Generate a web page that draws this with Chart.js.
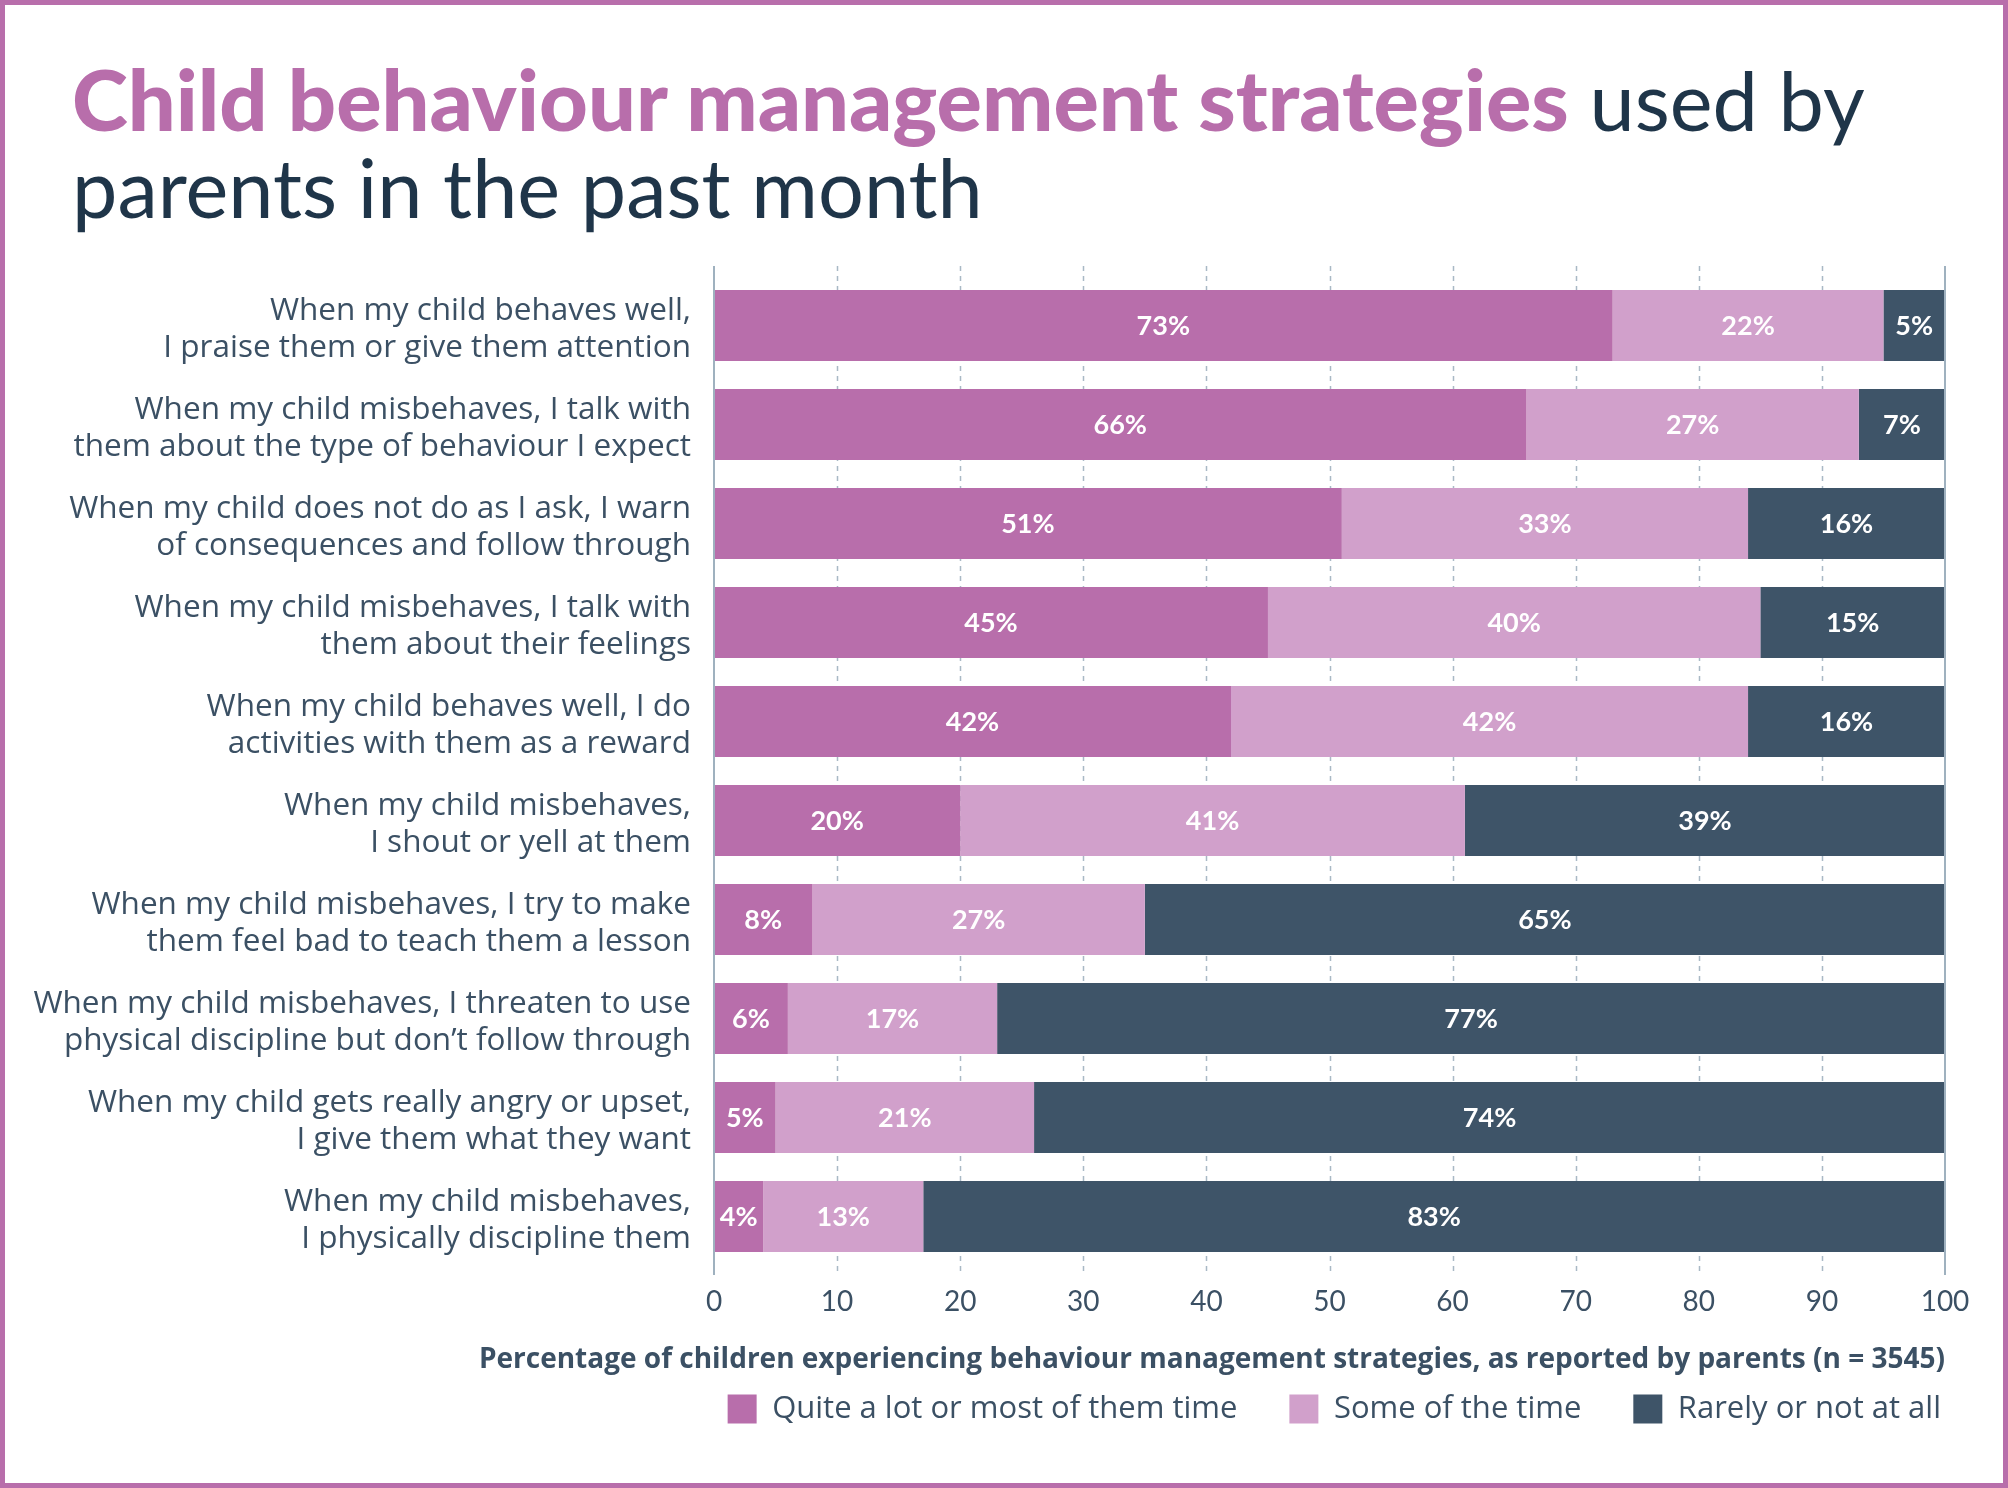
<!DOCTYPE html>
<html>
<head>
<meta charset="utf-8">
<script src="https://cdn.jsdelivr.net/npm/chart.js@4"></script>
<style>
  html, body { margin: 0; padding: 0; background: #ffffff; }
  #wrap { position: relative; width: 2008px; height: 1488px; overflow: hidden; }
  #c { position: absolute; left: 0; top: 0; }
  #frame { position: absolute; left: 0; top: 0; width: 2008px; height: 1488px; box-sizing: border-box;
           border: 5px solid #b86eab; pointer-events: none; }
  #title { position: absolute; left: 72px; top: 55px; font-family: Lato, sans-serif; font-size: 81px;
           line-height: 87px; color: #1f3549; white-space: nowrap; }
  #title b { color: #b86eab; font-weight: 900; font-size: 84.7px; }
</style>
</head>
<body>
<div id="wrap">
  <canvas id="c" width="2008" height="1488"></canvas>
  <div id="title"><b>Child behaviour management strategies</b> used by<br>parents in the past month</div>
  <div id="frame"></div>
</div>
<script>
const categories = [
  ["When my child behaves well,", "I praise them or give them attention"],
  ["When my child misbehaves, I talk with", "them about the type of behaviour I expect"],
  ["When my child does not do as I ask, I warn", "of consequences and follow through"],
  ["When my child misbehaves, I talk with", "them about their feelings"],
  ["When my child behaves well, I do", "activities with them as a reward"],
  ["When my child misbehaves,", "I shout or yell at them"],
  ["When my child misbehaves, I try to make", "them feel bad to teach them a lesson"],
  ["When my child misbehaves, I threaten to use", "physical discipline but don\u2019t follow through"],
  ["When my child gets really angry or upset,", "I give them what they want"],
  ["When my child misbehaves,", "I physically discipline them"]
];
const seriesNames = ["Quite a lot or most of them time", "Some of the time", "Rarely or not at all"];
const quiteALot = [73, 66, 51, 45, 42, 20, 8, 6, 5, 4];
const someOfTime = [22, 27, 33, 40, 42, 41, 27, 17, 21, 13];
const rarely = [5, 7, 16, 15, 16, 39, 65, 77, 74, 83];
const xTicks = [0, 10, 20, 30, 40, 50, 60, 70, 80, 90, 100];
const xAxisTitle = "Percentage of children experiencing behaviour management strategies, as reported by parents (n = 3545)";

const colors = ["#b86eab", "#d1a0cb", "#3e5468"];
const textColor = "#3b5064";
const bodyFont = "'Open Sans', sans-serif";

const gridPlugin = {
  id: "gridPlugin",
  beforeDatasetsDraw(chart) {
    const ctx = chart.ctx, xs = chart.scales.x;
    const top = chart.chartArea.top - 10, bottom = chart.chartArea.bottom + 9;
    ctx.save();
    ctx.strokeStyle = "#a9b9c5";
    ctx.lineWidth = 1.5;
    ctx.setLineDash([5, 5]);
    xTicks.forEach(v => {
      if (v === 0 || v === 100) return;
      const x = Math.round(xs.getPixelForValue(v)) + 0.5;
      ctx.beginPath(); ctx.moveTo(x, top); ctx.lineTo(x, bottom); ctx.stroke();
    });
    ctx.restore();
  },
  afterDatasetsDraw(chart) {
    const ctx = chart.ctx, xs = chart.scales.x;
    const top = chart.chartArea.top - 10, bottom = chart.chartArea.bottom + 9;
    ctx.save();
    ctx.strokeStyle = "#9fb1bf";
    ctx.lineWidth = 2;
    [0, 100].forEach(v => {
      const x = xs.getPixelForValue(v);
      ctx.beginPath(); ctx.moveTo(x, top); ctx.lineTo(x, bottom); ctx.stroke();
    });
    ctx.fillStyle = "#ffffff";
    ctx.font = "bold 27px Lato, sans-serif";
    ctx.textAlign = "center";
    ctx.textBaseline = "middle";
    chart.data.datasets.forEach((ds, i) => {
      const meta = chart.getDatasetMeta(i);
      meta.data.forEach((el, j) => {
        const v = ds.data[j];
        const cx = (el.x + el.base) / 2;
        ctx.fillText(v + "%", cx, el.y + 1);
      });
    });
    ctx.restore();
  },
  afterDraw(chart) {
    const ctx = chart.ctx, xs = chart.scales.x;
    ctx.save();
    ctx.fillStyle = textColor;
    ctx.font = "bold 28px " + bodyFont;
    ctx.textAlign = "right";
    ctx.textBaseline = "middle";
    ctx.fillText(xAxisTitle, xs.right, chart.chartArea.bottom + 94);
    ctx.restore();
  }
};

new Chart(document.getElementById("c"), {
  type: "bar",
  data: {
    labels: categories,
    datasets: [
      { label: seriesNames[0], data: quiteALot, backgroundColor: colors[0] },
      { label: seriesNames[1], data: someOfTime, backgroundColor: colors[1] },
      { label: seriesNames[2], data: rarely, backgroundColor: colors[2] }
    ]
  },
  options: {
    indexAxis: "y",
    responsive: false,
    animation: false,
    devicePixelRatio: 1,
    barPercentage: 0.715,
    categoryPercentage: 1.0,
    layout: { padding: { top: 276, right: 15, left: 0, bottom: 53.5 } },
    plugins: {
      legend: {
        position: "bottom",
        align: "end",
        labels: {
          font: { family: bodyFont, size: 31 },
          color: textColor,
          boxWidth: 29,
          boxHeight: 29,
          padding: 52
        }
      },
      tooltip: { enabled: false }
    },
    scales: {
      x: {
        stacked: true,
        min: 0, max: 100,
        grid: { display: false },
        border: { display: false },
        ticks: { stepSize: 10, padding: 11, color: textColor, font: { family: "Lato, sans-serif", size: 28 } },
        afterFit(scale) { scale.height = 75.5; }
      },
      y: {
        stacked: true,
        grid: { display: false },
        border: { display: false },
        ticks: { padding: 15, labelOffset: 4, color: textColor, font: { family: bodyFont, size: 31.5 }, autoSkip: false },
        afterFit(scale) { scale.width = 714; }
      },
      yRightGap: {
        type: "category",
        position: "right",
        display: true,
        grid: { display: false },
        border: { display: false },
        ticks: { display: false },
        afterFit(scale) { scale.width = 48; }
      }
    }
  },
  plugins: [gridPlugin]
});
</script>
</body>
</html>
